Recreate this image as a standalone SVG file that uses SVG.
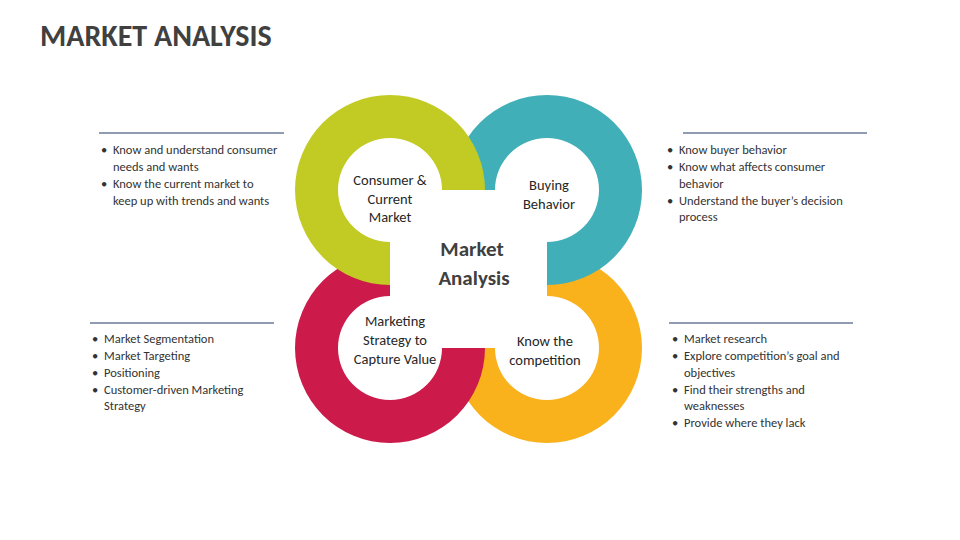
<svg xmlns="http://www.w3.org/2000/svg" width="960" height="540" viewBox="0 0 960 540">
<style>
text{font-family:Calibri,Carlito,"Liberation Sans",sans-serif;fill:#333}
.b{font-size:12.5px}
.n{font-size:14.5px;text-anchor:middle;fill:#262626}
.rule{stroke:#1f3864;stroke-width:1}
</style>
<defs>
<path id="ring" d="M95,0 A95,95 0 1 0 0,95 L0,52 A52,52 0 1 1 52,0 Z"/>
</defs>
<rect width="960" height="540" fill="#fff"/>
<text x="40" y="46" style="font-size:30px;font-weight:bold;fill:#404040">MARKET ANALYSIS</text>
<g id="connectors">
<line class="rule" x1="99" y1="133" x2="284" y2="133"/>
<line class="rule" x1="683" y1="133" x2="867" y2="133"/>
<line class="rule" x1="90" y1="323" x2="274" y2="323"/>
<line class="rule" x1="669" y1="323" x2="853" y2="323"/>
</g>
<g id="know-competition"><use href="#ring" transform="translate(547,348) rotate(180)" fill="#f9b21b"/>
<text class="n" x="545" y="346">Know the</text><text class="n" x="545" y="365">competition</text></g>
<g id="buying-behavior"><use href="#ring" transform="translate(547,190) rotate(90)" fill="#41afb8"/>
<text class="n" x="549" y="190">Buying</text><text class="n" x="549" y="209">Behavior</text></g>
<g id="marketing-strategy"><use href="#ring" transform="translate(390,348) rotate(270)" fill="#cc1a4a"/>
<text class="n" x="395" y="326">Marketing</text><text class="n" x="395" y="345">Strategy to</text><text class="n" x="395" y="364">Capture Value</text></g>
<g id="consumer-market"><use href="#ring" transform="translate(390,190)" fill="#c2cb24"/>
<text class="n" x="390" y="185">Consumer &amp;</text><text class="n" x="390" y="204">Current</text><text class="n" x="390" y="222">Market</text></g>
<g id="center"><text x="472" y="256" style="font-size:21px;font-weight:bold;text-anchor:middle;fill:#404040">Market</text>
<text x="474" y="285" style="font-size:21px;font-weight:bold;text-anchor:middle;fill:#404040">Analysis</text></g>
<g id="notes-tl" class="b">
<text class="b" x="101" y="154">•</text><text class="b" x="113" y="154">Know and understand consumer</text>
<text class="b" x="113" y="171">needs and wants</text>
<text class="b" x="101" y="188">•</text><text class="b" x="113" y="188">Know the current market to</text>
<text class="b" x="113" y="205">keep up with trends and wants</text>
</g>
<g id="notes-tr">
<text class="b" x="667" y="154">•</text><text class="b" x="679" y="154">Know buyer behavior</text>
<text class="b" x="667" y="171">•</text><text class="b" x="679" y="171">Know what affects consumer</text>
<text class="b" x="679" y="188">behavior</text>
<text class="b" x="667" y="205">•</text><text class="b" x="679" y="205">Understand the buyer’s decision</text>
<text class="b" x="679" y="221">process</text>
</g>
<g id="notes-bl">
<text class="b" x="92" y="343">•</text><text class="b" x="104" y="343">Market Segmentation</text>
<text class="b" x="92" y="360">•</text><text class="b" x="104" y="360">Market Targeting</text>
<text class="b" x="92" y="377">•</text><text class="b" x="104" y="377">Positioning</text>
<text class="b" x="92" y="394">•</text><text class="b" x="104" y="394">Customer-driven Marketing</text>
<text class="b" x="104" y="410">Strategy</text>
</g>
<g id="notes-br">
<text class="b" x="672" y="343">•</text><text class="b" x="684" y="343">Market research</text>
<text class="b" x="672" y="360">•</text><text class="b" x="684" y="360">Explore competition’s goal and</text>
<text class="b" x="684" y="377">objectives</text>
<text class="b" x="672" y="394">•</text><text class="b" x="684" y="394">Find their strengths and</text>
<text class="b" x="684" y="410">weaknesses</text>
<text class="b" x="672" y="427">•</text><text class="b" x="684" y="427">Provide where they lack</text>
</g>
</svg>
